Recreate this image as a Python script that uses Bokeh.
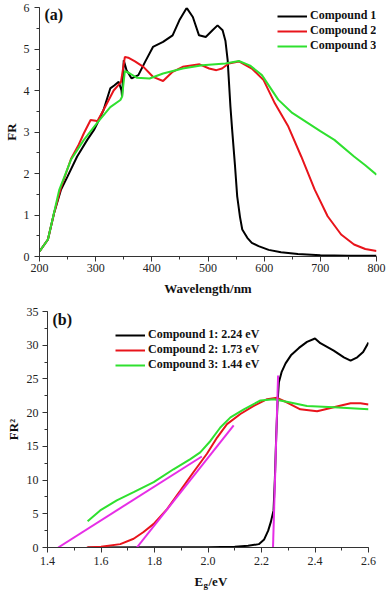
from bokeh.plotting import figure
from bokeh.layouts import column
from bokeh.models import Legend, LegendItem, Label, SingleIntervalTicker, NumeralTickFormatter
from bokeh.embed import file_html
from bokeh.resources import INLINE

# ---------------- data: panel (a) ----------------
wl1 = [200, 215, 226, 238, 250, 267, 285, 297, 303, 314, 326, 333, 341, 346, 347, 350, 355, 364, 376,
       388, 402, 420, 437, 449, 462, 473, 484, 496, 508, 517, 526, 531, 535, 540, 543, 548, 552, 557,
       561, 570, 578, 590, 608, 630, 660, 700, 750, 800]
fr1 = [0.12, 0.41, 1.05, 1.6, 1.93, 2.41, 2.81, 3.05, 3.21, 3.53, 4.05, 4.12, 4.21, 4.0, 3.85, 4.73,
       4.49, 4.29, 4.37, 4.69, 5.05, 5.17, 5.33, 5.69, 5.99, 5.77, 5.33, 5.29, 5.45, 5.57, 5.45, 5.2,
       4.73, 3.6, 3.05, 2.2, 1.45, 0.95, 0.65, 0.45, 0.33, 0.25, 0.16, 0.1, 0.06, 0.03, 0.02, 0.02]

wl2 = [200, 215, 226, 238, 256, 270, 279, 291, 300, 303, 314, 332, 345, 352, 358, 370, 385, 402, 420,
       437, 455, 470, 485, 502, 515, 525, 537, 555, 578, 599, 619, 643, 666, 690, 713, 737, 760, 780, 800]
fr2 = [0.12, 0.41, 1.05, 1.65, 2.35, 2.7, 2.97, 3.29, 3.27, 3.26, 3.53, 4.0, 4.2, 4.81, 4.79, 4.7,
       4.57, 4.33, 4.23, 4.45, 4.57, 4.6, 4.63, 4.53, 4.49, 4.53, 4.65, 4.7, 4.53, 4.25, 3.69, 3.13,
       2.41, 1.61, 0.97, 0.53, 0.29, 0.18, 0.13]

wl3 = [200, 215, 235, 256, 279, 302, 326, 344, 347, 352, 361, 373, 396, 420, 455, 490, 531, 555, 575,
       596, 625, 650, 700, 725, 760, 780, 800]
fr3 = [0.12, 0.41, 1.6, 2.33, 2.81, 3.21, 3.6, 3.77, 3.85, 4.47, 4.41, 4.31, 4.29, 4.41, 4.53, 4.61,
       4.65, 4.71, 4.6, 4.37, 3.78, 3.46, 3.02, 2.81, 2.41, 2.2, 1.97]

names_a = ["Compound 1", "Compound 2", "Compound 3"]

# ---------------- data: panel (b) ----------------
e1 = [1.55, 1.8, 2.0, 2.1, 2.15, 2.19, 2.21, 2.225, 2.235, 2.245, 2.25, 2.255, 2.26, 2.265, 2.275,
      2.29, 2.31, 2.34, 2.37, 2.40, 2.42, 2.47, 2.508, 2.533, 2.558, 2.58, 2.60]
v1 = [0.0, 0.02, 0.05, 0.1, 0.25, 0.5, 1.2, 2.5, 3.8, 5.5, 10.2, 16.5, 21.5, 24.5, 26.0, 27.3, 28.5,
      29.6, 30.5, 31.0, 30.3, 29.2, 28.2, 27.7, 28.2, 29.0, 30.4]

e2 = [1.547, 1.6, 1.672, 1.722, 1.759, 1.797, 1.847, 1.896, 1.946, 1.996, 2.034, 2.071, 2.121, 2.171,
      2.221, 2.258, 2.296, 2.345, 2.408, 2.47, 2.533, 2.57, 2.6]
v2 = [0.0, 0.1, 0.5, 1.3, 2.3, 3.5, 5.7, 8.4, 11.2, 13.9, 16.3, 18.3, 19.8, 21.0, 22.0, 22.2, 21.5,
      20.5, 20.2, 20.8, 21.4, 21.4, 21.2]

e3 = [1.55, 1.597, 1.659, 1.722, 1.797, 1.871, 1.934, 1.971, 2.009, 2.046, 2.084, 2.134, 2.196, 2.246,
      2.308, 2.37, 2.47, 2.6]
v3 = [3.9, 5.5, 7.0, 8.2, 9.7, 11.6, 13.1, 14.1, 15.8, 17.8, 19.3, 20.5, 21.8, 22.0, 21.5, 21.0,
      20.8, 20.5]

tan_x = [[2.243, 2.262], [1.734, 2.096], [1.44, 1.977]]
tan_y = [[0, 25.5], [0, 18.1], [0, 13.5]]

names_b = ["Compound 1: 2.24 eV", "Compound 2: 1.73 eV", "Compound 3: 1.44 eV"]

COLORS = ["#000000", "#e8141b", "#2fe02f"]
MAGENTA = "#e62ee6"
SERIF = "Liberation Serif"
TXT = "#111111"


def no_align(p):
    try:
        p.frame_align = False
    except Exception:
        pass


def style(p):
    p.xgrid.visible = False
    p.ygrid.visible = False
    p.outline_line_color = None
    for ax in (p.xaxis[0], p.yaxis[0]):
        ax.axis_line_color = "#333333"
        ax.major_tick_line_color = "#333333"
        ax.minor_tick_line_color = "#333333"
        ax.major_tick_in = 0
        ax.major_tick_out = 5
        ax.minor_tick_in = 0
        ax.minor_tick_out = 3
        ax.major_label_text_font = SERIF
        ax.major_label_text_font_size = "12px"
        ax.major_label_text_color = "#222222"
        ax.axis_label_text_font = SERIF
        ax.axis_label_text_font_style = "bold"
        ax.axis_label_text_font_size = "13px"
        ax.axis_label_text_color = TXT


def make_legend(items, loc):
    lg = Legend(items=items, location=loc)
    lg.label_text_font = SERIF
    lg.label_text_font_style = "bold"
    lg.label_text_font_size = "12px"
    lg.label_text_color = TXT
    lg.glyph_width = 30
    lg.glyph_height = 12
    lg.label_height = 12
    lg.spacing = 0
    lg.padding = 0
    lg.margin = 0
    lg.label_standoff = 3
    lg.border_line_color = None
    lg.background_fill_alpha = 0
    return lg


# ---------------- panel (a) ----------------
p1 = figure(width=387, height=298, x_range=(200, 800), y_range=(0, 6),
            output_backend="svg", toolbar_location=None,
            min_border_left=35, min_border_right=11, min_border_top=7, min_border_bottom=41)
no_align(p1)
style(p1)
p1.xaxis.ticker = SingleIntervalTicker(interval=100, num_minor_ticks=2)
p1.yaxis.ticker = SingleIntervalTicker(interval=1, num_minor_ticks=2)
p1.xaxis.axis_label = "Wavelength/nm"
p1.yaxis.axis_label = "FR"
p1.xaxis.major_label_standoff = 2
p1.xaxis.axis_label_standoff = 6
p1.yaxis.major_label_standoff = 5
p1.yaxis.axis_label_standoff = 2

ra = []
for (xs, ys, c) in zip([wl1, wl2, wl3], [fr1, fr2, fr3], COLORS):
    ra.append(p1.line(xs, ys, line_color=c, line_width=2))
p1.add_layout(make_legend([LegendItem(label=n, renderers=[r]) for n, r in zip(names_a, ra)], (238, 203)))
p1.add_layout(Label(x=5, y=242, x_units="screen", y_units="screen", text="(a)",
                    text_font=SERIF, text_font_style="bold", text_font_size="16px",
                    text_baseline="middle", text_color=TXT))

# ---------------- panel (b) ----------------
p2 = figure(width=387, height=272, x_range=(1.4, 2.6), y_range=(0, 35),
            output_backend="svg", toolbar_location=None,
            min_border_left=47, min_border_right=19, min_border_top=13, min_border_bottom=23)
no_align(p2)
style(p2)
p2.xaxis.ticker = SingleIntervalTicker(interval=0.2, num_minor_ticks=2)
p2.yaxis.ticker = SingleIntervalTicker(interval=5, num_minor_ticks=2)
p2.xaxis.formatter = NumeralTickFormatter(format="0.0")
p2.yaxis.axis_label = "FR²"
p2.xaxis.major_label_standoff = 4
p2.yaxis.major_label_standoff = 4
p2.yaxis.axis_label_standoff = 3

rb = []
for (xs, ys, c) in zip([e1, e2, e3], [v1, v2, v3], COLORS):
    rb.append(p2.line(xs, ys, line_color=c, line_width=2))
p2.multi_line(tan_x, tan_y, line_color=MAGENTA, line_width=2)
p2.add_layout(make_legend([LegendItem(label=n, renderers=[r]) for n, r in zip(names_b, rb)], (68, 175)))
p2.add_layout(Label(x=5, y=228, x_units="screen", y_units="screen", text="(b)",
                    text_font=SERIF, text_font_style="bold", text_font_size="16px",
                    text_baseline="middle", text_color=TXT))

# ---------------- strip holding the x-axis title E_g/eV of panel (b) ----------------
p3 = figure(width=387, height=20, x_range=(0, 387), y_range=(0, 20),
            output_backend="svg", toolbar_location=None,
            min_border_left=0, min_border_right=0, min_border_top=0, min_border_bottom=0)
no_align(p3)
p3.xaxis.visible = False
p3.yaxis.visible = False
p3.xgrid.visible = False
p3.ygrid.visible = False
p3.outline_line_color = None
p3.add_layout(Label(x=194, y=9, x_units="screen", y_units="screen", text="E",
                    text_font=SERIF, text_font_style="bold", text_font_size="13px",
                    text_baseline="alphabetic", text_color=TXT))
p3.add_layout(Label(x=203, y=6, x_units="screen", y_units="screen", text="g",
                    text_font=SERIF, text_font_style="bold", text_font_size="9px",
                    text_baseline="alphabetic", text_color=TXT))
p3.add_layout(Label(x=208, y=9, x_units="screen", y_units="screen", text="/eV",
                    text_font=SERIF, text_font_style="bold", text_font_size="13px",
                    text_baseline="alphabetic", text_color=TXT))

layout = column(p1, p2, p3)
open("out.html", "w").write(file_html(layout, INLINE))
